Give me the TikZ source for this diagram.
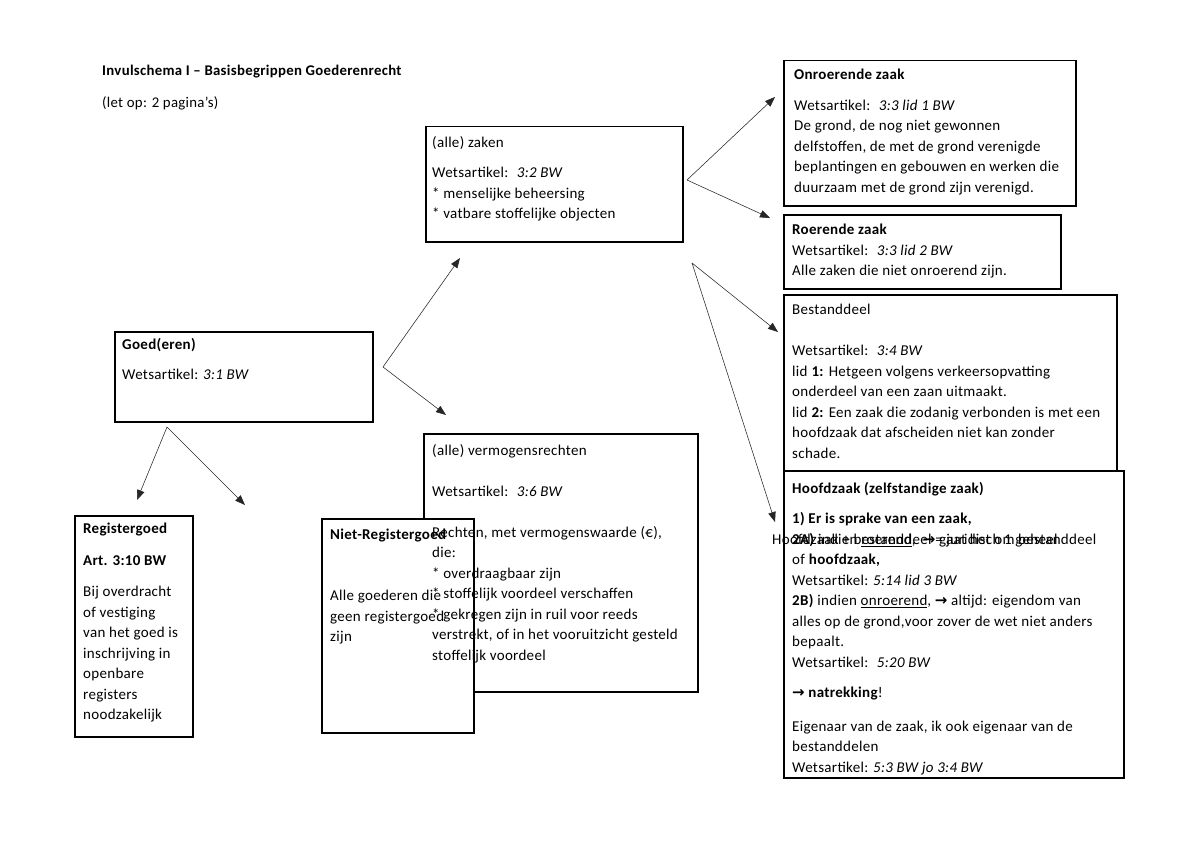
\documentclass[tikz,border=0pt]{standalone}
\usepackage{fontspec}
\setmainfont{Carlito}[LetterSpace=2]
\newfontfamily\symfnt{DejaVu Sans}
\usetikzlibrary{arrows.meta}
\newcommand{\rarr}{{\symfnt\bfseries\fontsize{15}{15}\selectfont →}}
\tikzset{
  boxst/.style={draw, line width=1.5pt, fill=white, anchor=north west, inner sep=0pt},
  txt/.style={anchor=north west, inner sep=0pt, align=left, font=\fontsize{15}{20.5}\selectfont},
  arr/.style={-{Triangle[length=10pt,width=7.5pt]}, line width=0.55pt, draw=black!85}
}
\begin{document}
\begin{tikzpicture}[x=1pt,y=-1pt]
\useasboundingbox[fill=white] (0,0) rectangle (1200,848);

% title
\node[txt, font=\fontsize{14.8}{18}\selectfont\bfseries] (title) at (102,65) {Invulschema I -- Basisbegrippen Goederenrecht};
\node[txt, font=\fontsize{14.8}{18}\selectfont] (letop) at (102,96) {(let op: 2 pagina’s)};

% zaken
\node[boxst, minimum width=257pt, minimum height=115pt] (zaken) at (425,126) {};
\node[txt] (zakent) at (432,136) {(alle) zaken\\[10pt]
Wetsartikel: \ \textit{3:2 BW}\\
* menselijke beheersing\\
* vatbare stoffelijke objecten};

% onroerende zaak
\node[boxst, minimum width=292pt, minimum height=145pt] (onr) at (783,60) {};
\node[txt] (onrt) at (794,69) {\textbf{Onroerende zaak}\\[10pt]
Wetsartikel: \ \textit{3:3 lid 1 BW}\\
De grond, de nog niet gewonnen\\
delfstoffen, de met de grond verenigde\\
beplantingen en gebouwen en werken die\\
duurzaam met de grond zijn verenigd.};

% roerende zaak
\node[boxst, minimum width=277pt, minimum height=74pt] (roer) at (783,214) {};
\node[txt] (roert) at (792,224) {\textbf{Roerende zaak}\\
Wetsartikel: \ \textit{3:3 lid 2 BW}\\
Alle zaken die niet onroerend zijn.};

% bestanddeel
\node[boxst, minimum width=333pt, minimum height=182pt] (best) at (783,294) {};
\node[txt] (bestt) at (792,304) {Bestanddeel\\[20.5pt]
Wetsartikel: \ \textit{3:4 BW}\\
lid \textbf{1:} Hetgeen volgens verkeersopvatting\\
onderdeel van een zaan uitmaakt.\\
lid \textbf{2:} Een zaak die zodanig verbonden is met een\\
hoofdzaak dat afscheiden niet kan zonder\\
schade.};

% hoofdzaak
\node[boxst, minimum width=340pt, minimum height=307pt] (hoofd) at (783,470) {};
\node[txt] (hoofdt) at (792,482) {\textbf{Hoofdzaak (zelfstandige zaak)}\\[10pt]
\textbf{1) Er is sprake van een zaak,}\\
\textbf{2A)} indien \underline{roerend}, \ \rarr\ gaat het om bestanddeel\\
of \textbf{hoofdzaak,}\\
Wetsartikel: \textit{5:14 lid 3 BW}\\
\textbf{2B)} indien \underline{onroerend}, \rarr\ altijd: eigendom van\\
alles op de grond,voor zover de wet niet anders\\
bepaalt.\\
Wetsartikel: \ \textit{5:20 BW}\\[10pt]
\rarr\ \textbf{natrekking}!\\[13pt]
Eigenaar van de zaak, ik ook eigenaar van de\\
bestanddelen\\
Wetsartikel: \textit{5:3 BW jo 3:4 BW}};
\node[txt] (overlay) at (772,534) {Hoofdzaak + bestanddeel = juridisch 1 geheel};

% goed(eren)
\node[boxst, minimum width=258pt, minimum height=90pt] (goed) at (114,331) {};
\node[txt] (goedt) at (122,338) {\textbf{Goed(eren)}\\[10pt]
Wetsartikel: \textit{3:1 BW}};

% registergoed
\node[boxst, minimum width=118pt, minimum height=221pt] (reg) at (74,515) {};
\node[txt] (regt) at (83,523) {\textbf{Registergoed}\\[11pt]
\textbf{Art. 3:10 BW}\\[11pt]
Bij overdracht\\
of vestiging\\
van het goed is\\
inschrijving in\\
openbare\\
registers\\
noodzakelijk};

% vermogensrechten box
\node[boxst, minimum width=274pt, minimum height=258pt] (verm) at (423,433) {};

% niet-registergoed
\node[boxst, minimum width=152pt, minimum height=214pt] (niet) at (321,518) {};
\node[txt] (niett) at (330,529) {\textbf{Niet-Registergoed}\\[40.5pt]
Alle goederen die\\
geen registergoed\\
zijn};

% vermogensrechten text (drawn over)
\node[txt] (vermt) at (432,444) {(alle) vermogensrechten\\[20.5pt]
Wetsartikel: \ \textit{3:6 BW}\\[20.5pt]
Rechten, met vermogenswaarde (€),\\
die:\\
* overdraagbaar zijn\\
* stoffelijk voordeel verschaffen\\
* gekregen zijn in ruil voor reeds\\
verstrekt, of in het vooruitzicht gesteld\\
stoffelijk voordeel};

% connector points
\coordinate (gv1) at (383,367);
\coordinate (t1) at (460,258);
\coordinate (t2) at (446,415);
\coordinate (gv2) at (167,427);
\coordinate (t3) at (137,500);
\coordinate (t4) at (245,505);
\coordinate (zv1) at (687,180);
\coordinate (t5) at (775,97);
\coordinate (t6) at (770,218);
\coordinate (zv2) at (692,263);
\coordinate (t7) at (778,332);
\coordinate (t8) at (775,522);

\draw[arr] (gv1) -- (t1);
\draw[arr] (gv1) -- (t2);
\draw[arr] (gv2) -- (t3);
\draw[arr] (gv2) -- (t4);
\draw[arr] (zv1) -- (t5);
\draw[arr] (zv1) -- (t6);
\draw[arr] (zv2) -- (t7);
\draw[arr] (zv2) -- (t8);
\end{tikzpicture}
\end{document}
